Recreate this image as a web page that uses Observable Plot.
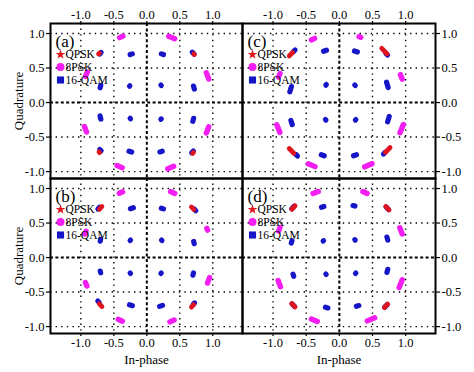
<!DOCTYPE html>
<html><head><meta charset="utf-8">
<script src="https://cdn.jsdelivr.net/npm/d3@7"></script>
<script src="https://cdn.jsdelivr.net/npm/@observablehq/plot@0.6"></script>
<style>
html,body{margin:0;padding:0;background:#fff;}
#chart{position:relative;width:474px;height:372px;overflow:hidden;}
#chart svg{position:absolute;left:0;top:0;}
</style></head><body><div id="chart"></div>
<script>
// ticks and labels
const xTicks = [-1, -0.5, 0, 0.5, 1];
const yTicks = [-1, -0.5, 0, 0.5, 1];
const gridTicks = [-1, -0.5, 0.5, 1];
const seriesNames = ["QPSK", "8PSK", "16-QAM"];
const seriesColors = ["#e0141e", "#f21ef2", "#1616c8"];
const panelLabels = ["(a)", "(b)", "(c)", "(d)"];
const xTitle = "In-phase";
const yTitle = "Quadrature";

// cluster values: [I, Q, spread I, spread Q] (half extent of each received cloud)
const qpskA = [[-0.725, 0.71, 0.006, 0.006], [0.715, 0.70, 0.005, -0.005], [-0.72, -0.72, 0.005, -0.005], [0.70, -0.73, 0.006, 0.006]];
const psk8A = [[-0.387, 0.952, 0.025, 0.011], [0.377, 0.942, 0.045, -0.018], [0.920, 0.386, -0.018, 0.045], [0.920, -0.396, 0.018, 0.045],
  [0.362, -0.942, 0.045, 0.018], [-0.412, -0.928, 0.039, -0.015], [-0.930, -0.386, -0.015, 0.039], [-0.915, 0.411, 0.014, 0.032]];
const qam16A = [[-0.703, 0.715, 0.010, 0.010], [-0.236, 0.70, 0.016, 0.005], [0.236, 0.70, 0.016, -0.005], [0.703, 0.715, 0.015, -0.015],
  [-0.703, 0.232, 0.005, 0.018], [-0.26, 0.24, 0.003, 0.003], [0.216, 0.25, -0.003, 0.003], [0.714, 0.217, -0.006, 0.022],
  [-0.703, -0.217, -0.006, 0.022], [-0.25, -0.232, -0.003, 0.003], [0.216, -0.24, 0.003, 0.003], [0.703, -0.25, 0.006, 0.022],
  [-0.703, -0.69, 0.010, -0.010], [-0.25, -0.71, 0.020, -0.006], [0.216, -0.71, 0.017, 0.005], [0.693, -0.715, 0.013, 0.013]];

const qpskB = [[-0.70, 0.72, 0.02, 0.02], [0.693, 0.715, 0.018, -0.018], [-0.70, -0.69, 0.02, -0.02], [0.693, -0.70, 0.018, 0.018]];
const psk8B = [[-0.392, 0.942, 0.025, 0.011], [0.392, 0.942, 0.032, -0.014], [0.915, 0.41, -0.006, 0.013], [0.935, -0.33, 0.015, 0.039],
  [0.382, -0.918, 0.032, 0.014], [-0.402, -0.908, 0.032, -0.014], [-0.92, -0.386, -0.011, 0.025], [-0.93, 0.36, 0.008, 0.020]];
const qam16B = [[-0.73, 0.715, 0.012, 0.012], [-0.226, 0.715, 0.022, 0.007], [0.236, 0.71, 0.016, -0.005], [0.73, 0.69, 0.012, -0.012],
  [-0.703, 0.25, 0.003, 0.012], [-0.25, 0.25, 0.003, 0.003], [0.226, 0.25, -0.003, 0.003], [0.714, 0.217, -0.004, 0.016],
  [-0.703, -0.208, -0.003, 0.012], [-0.25, -0.227, -0.003, 0.003], [0.216, -0.227, 0.003, 0.003], [0.703, -0.24, 0.004, 0.016],
  [-0.733, -0.64, 0.010, -0.010], [-0.241, -0.69, 0.022, -0.007], [0.216, -0.70, 0.022, 0.007], [0.714, -0.667, 0.010, 0.010]];

const qpskC = [[-0.73, 0.70, 0.025, 0.025], [0.68, 0.745, 0.040, -0.040], [-0.72, -0.70, 0.035, -0.035], [0.73, -0.686, 0.035, 0.035]];
const psk8C = [[-0.397, 0.918, 0.025, 0.011], [0.31, 0.95, 0.013, -0.006], [0.935, 0.372, -0.014, 0.032], [0.94, -0.377, 0.025, 0.060],
  [0.437, -0.908, 0.055, 0.023], [-0.417, -0.908, 0.050, -0.020], [-0.92, -0.377, -0.023, 0.055], [-0.905, 0.396, 0.011, 0.025]];
const qam16C = [[-0.68, 0.75, 0.012, 0.012], [-0.216, 0.75, 0.022, 0.007], [0.25, 0.74, 0.022, -0.007], [0.714, 0.70, 0.012, -0.012],
  [-0.734, 0.193, 0.012, 0.038], [-0.2, 0.256, 0.004, 0.004], [0.236, 0.25, -0.004, 0.004], [0.724, 0.256, -0.012, 0.038],
  [-0.72, -0.29, -0.010, 0.030], [-0.206, -0.25, -0.004, 0.004], [0.246, -0.25, 0.004, 0.004], [0.74, -0.24, 0.012, 0.038],
  [-0.643, -0.763, 0.012, -0.012], [-0.25, -0.763, 0.022, -0.007], [0.236, -0.763, 0.022, 0.007], [0.678, -0.734, 0.012, 0.012]];

const qpskD = [[-0.693, 0.725, 0.025, 0.025], [0.724, 0.715, 0.025, -0.025], [-0.693, -0.69, 0.025, -0.025], [0.704, -0.70, 0.025, 0.025]];
const psk8D = [[-0.357, 0.942, 0.039, 0.015], [0.387, 0.942, 0.032, -0.014], [0.93, 0.386, -0.018, 0.045], [0.925, -0.377, 0.023, 0.056],
  [0.477, -0.894, 0.056, 0.023], [-0.377, -0.908, 0.045, -0.018], [-0.905, -0.377, -0.018, 0.045], [-0.905, 0.41, 0.011, 0.025]];
const qam16D = [[-0.70, 0.725, 0.018, 0.018], [-0.251, 0.734, 0.018, 0.005], [0.221, 0.749, 0.014, -0.004], [0.724, 0.715, 0.018, -0.018],
  [-0.719, 0.227, 0.005, 0.016], [-0.241, 0.242, 0.003, 0.003], [0.236, 0.256, -0.003, 0.003], [0.724, 0.275, -0.006, 0.022],
  [-0.693, -0.256, -0.005, 0.016], [-0.201, -0.242, -0.003, 0.003], [0.246, -0.227, 0.003, 0.003], [0.724, -0.193, 0.006, 0.022],
  [-0.693, -0.69, 0.018, -0.018], [-0.191, -0.725, 0.018, -0.005], [0.276, -0.70, 0.018, 0.005], [0.704, -0.70, 0.018, 0.018]];

const W = 474, H = 372;
const FONT = "'Liberation Serif', 'Times New Roman', serif";
const fmt = d => d.toFixed(1);

function cloud(data, color, width) {
  return Plot.link(data, {
    x1: d => d[0] - d[2], y1: d => d[1] - d[3],
    x2: d => d[0] + d[2], y2: d => d[1] + d[3],
    stroke: color, strokeWidth: width, strokeLinecap: "round"
  });
}

function panel({label, qpsk, psk8, qam16, ml, mr, mt, mb, xAnchor, yAnchor}) {
  const marks = [
    Plot.gridX(gridTicks, {stroke: "black", strokeOpacity: 1, strokeWidth: 1.4, strokeDasharray: "1.4,4.2"}),
    Plot.gridY(gridTicks, {stroke: "black", strokeOpacity: 1, strokeWidth: 1.4, strokeDasharray: "1.4,4.2"}),
    Plot.ruleX([0], {stroke: "black", strokeWidth: 2, strokeDasharray: "3,2.4"}),
    Plot.ruleY([0], {stroke: "black", strokeWidth: 2, strokeDasharray: "3,2.4"}),
    cloud(psk8, seriesColors[1], 5.4),
    cloud(qam16, seriesColors[2], 5.2),
    cloud(qpsk, seriesColors[0], 4.8),
    Plot.frame({stroke: "black", strokeWidth: 2}),
    Plot.axisX(xTicks, {anchor: xAnchor, tickSize: 3, tickPadding: 2, tickFormat: fmt, label: null, fontSize: 12.5, fontFamily: FONT, strokeWidth: 1.2}),
    Plot.axisY(yTicks, {anchor: yAnchor, tickSize: 4, tickPadding: 2, tickFormat: fmt, label: null, fontSize: 12.5, fontFamily: FONT, strokeWidth: 1.2}),
    Plot.text([label], {frameAnchor: "top-left", dx: 5, dy: 18, text: d => d, textAnchor: "start", lineAnchor: "middle", fontSize: 17, fontFamily: FONT})
  ];
  const legendDy = [31, 43.5, 56.5];
  const symbols = ["star", "circle", "square"];
  const radii = [3.1, 4, 4];
  seriesNames.forEach((name, i) => {
    marks.push(Plot.dot([name], {frameAnchor: "top-left", dx: 10, dy: legendDy[i], symbol: symbols[i], r: radii[i], fill: seriesColors[i], stroke: "none"}));
    marks.push(Plot.text([name], {frameAnchor: "top-left", dx: 15, dy: legendDy[i], text: d => d, textAnchor: "start", lineAnchor: "middle", fontSize: 11.5, fontFamily: FONT}));
  });
  if (yAnchor === "left") marks.push(Plot.text([yTitle], {frameAnchor: "left", dx: -32, rotate: -90, text: d => d, textAnchor: "middle", lineAnchor: "middle", fontSize: 13, fontFamily: FONT}));
  if (xAnchor === "bottom") marks.push(Plot.text([xTitle], {frameAnchor: "bottom", dy: 26, text: d => d, textAnchor: "middle", lineAnchor: "middle", fontSize: 13, fontFamily: FONT}));
  return Plot.plot({
    width: W, height: H,
    marginLeft: ml, marginRight: mr, marginTop: mt, marginBottom: mb,
    x: {domain: [-1.46, 1.45]},
    y: {domain: [-1.10, 1.145]},
    style: {background: "transparent", overflow: "visible", fontFamily: FONT, fontSize: "12px", color: "black"},
    marks
  });
}

const root = document.getElementById("chart");
root.append(panel({label: panelLabels[0], qpsk: qpskA, psk8: psk8A, qam16: qam16A, ml: 50, mr: W - 242, mt: 23, mb: H - 178, xAnchor: "top", yAnchor: "left"}));
root.append(panel({label: panelLabels[1], qpsk: qpskB, psk8: psk8B, qam16: qam16B, ml: 50, mr: W - 242, mt: 178, mb: H - 333, xAnchor: "bottom", yAnchor: "left"}));
root.append(panel({label: panelLabels[2], qpsk: qpskC, psk8: psk8C, qam16: qam16C, ml: 242, mr: W - 435, mt: 23, mb: H - 178, xAnchor: "top", yAnchor: "right"}));
root.append(panel({label: panelLabels[3], qpsk: qpskD, psk8: psk8D, qam16: qam16D, ml: 242, mr: W - 435, mt: 178, mb: H - 333, xAnchor: "bottom", yAnchor: "right"}));
</script></body></html>
